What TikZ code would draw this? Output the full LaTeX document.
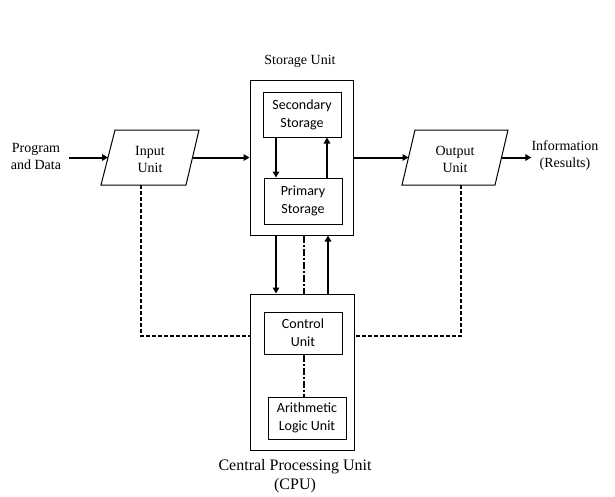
\documentclass[tikz,border=0pt]{standalone}
\usepackage{fontspec}
\setmainfont{Liberation Serif}
\newfontfamily\boxfont{Carlito}
\usetikzlibrary{arrows.meta,calc}
\begin{document}
\begin{tikzpicture}[x=1pt,y=-1pt,
  unitbox/.style={draw, line width=1pt, inner sep=0pt},
  inbox/.style={unitbox, minimum width=78pt, align=center, font=\boxfont\fontsize{14}{18}\selectfont},
  lbl/.style={align=center, inner sep=0pt, font=\fontsize{14}{17}\selectfont},
  arr/.style={line width=2pt, -{Triangle[length=6pt,width=6.5pt]}},
  dsh/.style={line width=2pt, dash pattern=on 4pt off 2pt},
  dshdot/.style={line width=2pt, dash pattern=on 7pt off 2pt on 2pt off 2pt},
  para/.style={line width=1pt}]
\useasboundingbox (0,0) rectangle (615,496);

% Storage unit
\node[unitbox, minimum width=103pt, minimum height=155pt] (stor) at (301.5,157.5) {};
\node[lbl] (storlbl) at (300,61) {Storage Unit};
\node[inbox, minimum height=45pt] (sec) at (302,114.5) {Secondary\\Storage};
\node[inbox, minimum height=46pt] (prim) at (303,201) {Primary\\Storage};

% CPU
\node[unitbox, minimum width=104pt, minimum height=156pt] (cpu) at (302,372) {};
\node[inbox, minimum height=42pt] (ctrl) at (303,333) {Control\\Unit};
\node[inbox, minimum height=42pt] (alu) at (307,418) {Arithmetic\\Logic Unit};
\node[lbl, font=\fontsize{16}{19}\selectfont] (cpulbl) at (295,476) {Central Processing Unit\\(CPU)};

% Input unit (parallelogram)
\coordinate (inTL) at (115,130);
\coordinate (inTR) at (199,130);
\coordinate (inBR) at (186,185);
\coordinate (inBL) at (101,185);
\draw[para] (inTL) -- (inTR) -- (inBR) -- (inBL) -- cycle;
\node[lbl] (inp) at (150,159) {Input\\Unit};
\coordinate (inL) at (108,157.5);
\coordinate (inR) at (192.5,157.5);
\coordinate (inB) at (141,185);

% Output unit (parallelogram)
\coordinate (outTL) at (415,130);
\coordinate (outTR) at (508,130);
\coordinate (outBR) at (495,185);
\coordinate (outBL) at (402,185);
\draw[para] (outTL) -- (outTR) -- (outBR) -- (outBL) -- cycle;
\node[lbl] (outp) at (455,159) {Output\\Unit};
\coordinate (outL) at (408.5,157.5);
\coordinate (outR) at (501.5,157.5);
\coordinate (outB) at (461,185);

% External labels
\node[lbl] (pd) at (36,156) {Program\\and Data};
\node[lbl] (info) at (565,156) {Information\\(Results)};

% Main flow arrows
\draw[arr] (pd.east |- inL) ++(8,0) -- (inL);
\draw[arr] (inR) -- (inR -| stor.west);
\draw[arr] (stor.east |- outL) -- (outL);
\draw[arr] (outR) -- (outR -| info.west);

% Storage internal arrows
\draw[arr] ([xshift=-26pt]sec.south) -- ([xshift=-26pt]sec.south |- prim.north);
\draw[arr] ([xshift=24pt]prim.north) -- ([xshift=24pt]prim.north |- sec.south);

% Storage <-> CPU
\draw[arr] ([xshift=-25.5pt]stor.south) -- ([xshift=-25.5pt]stor.south |- cpu.north);
\draw[dshdot] ([xshift=2.5pt]stor.south) -- ([xshift=2.5pt]stor.south |- cpu.north);
\draw[arr] ([xshift=26pt]cpu.north) -- ([xshift=26pt]cpu.north |- stor.south);

% Control <-> ALU
\draw[dshdot] ([xshift=1pt]ctrl.south) -- ([xshift=1pt]ctrl.south |- alu.north);

% Control lines from I/O to CPU
\draw[dsh] (inB) |- ([yshift=36pt]cpu.west);
\draw[dsh] (outB) |- ([yshift=36pt]cpu.east);
\end{tikzpicture}
\end{document}
